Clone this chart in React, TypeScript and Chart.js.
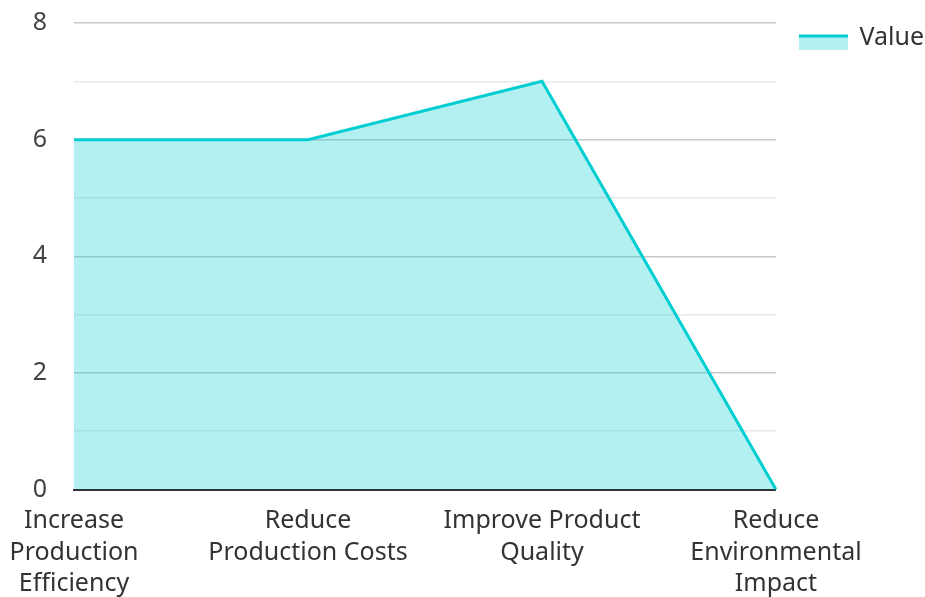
import React, { useEffect, useRef } from "react";
import { Chart, registerables } from "chart.js";

Chart.register(...registerables);

const categories: string[][] = [
  ["Increase", "Production", "Efficiency"],
  ["Reduce", "Production Costs"],
  ["Improve Product", "Quality"],
  ["Reduce", "Environmental", "Impact"],
];
const seriesName = "Value";
const values = [6, 6, 7, 0];
const yMin = 0;
const yMax = 8;
const yStep = 1;
const labelledTicks = [0, 2, 4, 6, 8];

const LINE = "rgb(0, 206, 209)";
const FILL = "rgba(0, 206, 209, 0.3)";
const TEXT = "#333333";
const FONT = "Noto Sans";

function legendSwatch(): HTMLCanvasElement {
  const c = document.createElement("canvas");
  c.width = 49;
  c.height = 24;
  const g = c.getContext("2d")!;
  g.fillStyle = FILL;
  g.fillRect(0, 9, 49, 15);
  g.fillStyle = LINE;
  g.fillRect(0, 9, 49, 3);
  return c;
}

export default function App() {
  const ref = useRef<HTMLCanvasElement | null>(null);
  useEffect(() => {
    if (!ref.current) return;
    const swatch = legendSwatch();
    const chart = new Chart(ref.current, {
      type: "line",
      data: {
        labels: categories,
        datasets: [
          {
            label: seriesName,
            data: values,
            borderColor: LINE,
            backgroundColor: FILL,
            borderWidth: 3,
            fill: "origin",
            pointRadius: 0,
            tension: 0,
          },
        ],
      },
      options: {
        animation: false,
        responsive: false,
        maintainAspectRatio: false,
        layout: { padding: { top: 0, right: -9, left: 0, bottom: -11 } },
        plugins: {
          tooltip: { enabled: false },
          legend: {
            position: "right",
            align: "start",
            labels: {
              usePointStyle: true,
              pointStyle: swatch as any,
              pointStyleWidth: 46,
              color: TEXT,
              font: { family: FONT, size: 25, lineHeight: 1.15 },
              padding: 25,
            },
          },
        },
        scales: {
          x: {
            offset: false,
            grid: { display: false },
            border: { display: true, color: "#333333", width: 2 },
            ticks: {
              color: TEXT,
              maxRotation: 0,
              autoSkip: false,
              font: { family: FONT, size: 25, lineHeight: 1.26 },
              padding: 8,
            },
          },
          y: {
            min: yMin,
            max: yMax,
            border: { display: false },
            afterFit: (scale: any) => {
              scale.width = 74;
              scale.paddingTop = 23;
            },
            grid: {
              drawTicks: false,
              color: (ctx: any) =>
                labelledTicks.includes(ctx.tick?.value) ? "#c8c8c8" : "#e8e8e8",
              lineWidth: 1.5,
            },
            ticks: {
              stepSize: yStep,
              color: "#444444",
              padding: 27,
              font: { family: FONT, size: 25 },
              callback: (v: any) => (labelledTicks.includes(Number(v)) ? String(v) : ""),
            },
          },
        },
      },
    });
    return () => chart.destroy();
  }, []);
  return (
    <div style={{ position: "fixed", left: 0, top: 0, width: 925, height: 597 }}>
      <canvas ref={ref} width={925} height={597} style={{ width: 925, height: 597 }} />
    </div>
  );
}
